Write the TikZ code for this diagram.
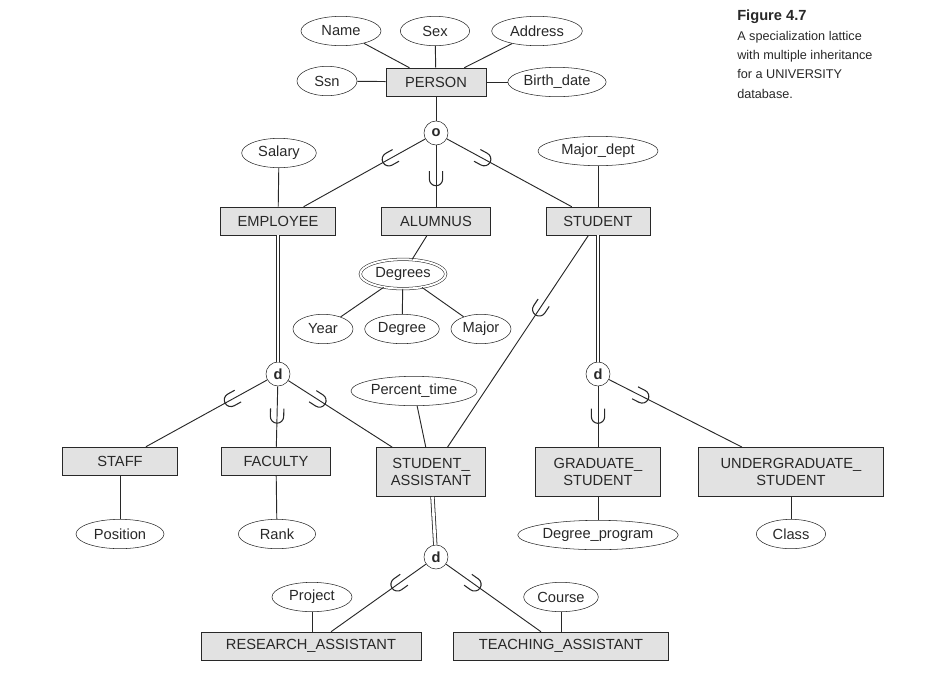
\documentclass[tikz,border=0pt]{standalone}
\usepackage{fontspec}
\setmainfont{Liberation Sans}
\usetikzlibrary{decorations.markings,shapes.geometric}
\definecolor{boxfill}{RGB}{226,226,226}
\definecolor{ink}{RGB}{40,40,40}
\begin{document}
\begin{tikzpicture}[x=0.75pt,y=-0.75pt,
  every node/.style={font=\fontsize{11}{13}\selectfont, text=ink},
  ent/.style={draw=ink, fill=boxfill, minimum height=21pt, inner sep=2pt, align=center},
  ent2/.style={ent, minimum height=37pt},
  attr/.style={draw=ink, ellipse, minimum height=22pt, inner sep=1pt},
  mattr/.style={attr, double, double distance=1.5pt},
  circ/.style={draw=ink, circle, minimum size=18pt, inner sep=0pt, font=\bfseries\fontsize{11}{13}\selectfont},
  ln/.style={draw=ink, line width=0.7pt},
  dbl/.style={draw=ink, double, double distance=2pt, line width=0.6pt},
  subsetcup/.style={postaction={decorate,decoration={markings,mark=at position #1 with {\draw[ink, line width=0.8pt] (-6pt,5pt) -- (0pt,5pt) arc[start angle=90,end angle=-90,radius=5pt] -- (-6pt,-5pt);}}}}
]
\useasboundingbox (0,0) rectangle (945,679);
% entities
\node[ent, minimum width=75pt] (person) at (436,82) {PERSON};
\node[ent, minimum width=86pt] (emp) at (278,221) {EMPLOYEE};
\node[ent, minimum width=82pt] (alum) at (436,221) {ALUMNUS};
\node[ent, minimum width=78pt] (stu) at (598,221) {STUDENT};
\node[ent, minimum width=86pt] (staff) at (120,461) {STAFF};
\node[ent, minimum width=82pt] (fac) at (276,461) {FACULTY};
\node[ent2, minimum width=82pt] (sa) at (431,472) {STUDENT\_\\ASSISTANT};
\node[ent2, minimum width=94pt] (gs) at (598,472) {GRADUATE\_\\STUDENT};
\node[ent2, minimum width=139pt] (ug) at (791,472) {UNDERGRADUATE\_\\STUDENT};
\node[ent, minimum width=165pt] (ra) at (311,646) {RESEARCH\_ASSISTANT};
\node[ent, minimum width=161pt] (ta) at (561,646) {TEACHING\_ASSISTANT};
% circles
\node[circ] (o) at (436,133) {o};
\node[circ] (d1) at (278,374) {d};
\node[circ] (d2) at (598,374) {d};
\node[circ] (d3) at (436,557) {d};
% attributes
\node[attr, minimum width=60pt] (name) at (341,31) {Name};
\node[attr, minimum width=52pt] (sex) at (435,31) {Sex};
\node[attr, minimum width=68pt] (addr) at (537,31) {Address};
\node[attr, minimum width=45pt] (ssn) at (327,81) {Ssn};
\node[attr, minimum width=70pt] (bd) at (557,82) {Birth\_date};
\node[attr, minimum width=56pt] (sal) at (279,153) {Salary};
\node[attr, minimum width=90pt] (md) at (598,151) {Major\_dept};
\node[mattr, minimum width=64pt] (deg) at (403,274) {Degrees};
\node[attr, minimum width=45pt] (year) at (323,329) {Year};
\node[attr, minimum width=56pt] (degree) at (402,329) {Degree};
\node[attr, minimum width=45pt] (major) at (481,329) {Major};
\node[attr, minimum width=82pt] (pt) at (414,391) {Percent\_time};
\node[attr, minimum width=66pt] (pos) at (120,534) {Position};
\node[attr, minimum width=58pt] (rank) at (277,534) {Rank};
\node[attr, minimum width=120pt] (dp) at (598,535) {Degree\_program};
\node[attr, minimum width=52pt] (cls) at (791,534) {Class};
\node[attr, minimum width=60pt] (proj) at (312,597) {Project};
\node[attr, minimum width=56pt] (course) at (561,597) {Course};
% attribute links
\foreach \a in {name,sex,addr,ssn,bd} \draw[ln] (\a) -- (person);
\draw[ln] (sal) -- (emp);
\draw[ln] (md) -- (stu);
\draw[ln] (alum) -- (deg);
\foreach \a in {year,degree,major} \draw[ln] (deg) -- (\a);
\draw[ln] (pt) -- (sa);
\draw[ln] (pos) -- (staff);
\draw[ln] (rank) -- (fac);
\draw[ln] (dp) -- (gs);
\draw[ln] (cls) -- (ug);
\draw[ln] (proj) -- (proj |- ra.north);
\draw[ln] (course) -- (course |- ta.north);
% specialization
\draw[ln] (person) -- (o);
\draw[ln, subsetcup=0.3] (o) -- (emp);
\draw[ln, subsetcup=0.55] (o) -- (alum);
\draw[ln, subsetcup=0.3] (o) -- (stu);
\draw[dbl] (emp) -- (d1);
\draw[dbl] (stu) -- (d2);
\draw[ln, subsetcup=0.3] (d1) -- (staff);
\draw[ln, subsetcup=0.5] (d1) -- (fac);
\draw[ln, subsetcup=0.3] (d1) -- (sa);
\draw[ln, subsetcup=0.35] (stu) -- (sa);
\draw[ln, subsetcup=0.5] (d2) -- (gs);
\draw[ln, subsetcup=0.25] (d2) -- (ug);
\draw[dbl] (sa) -- (d3);
\draw[ln, subsetcup=0.3] (d3) -- (ra);
\draw[ln, subsetcup=0.3] (d3) -- (ta);
% caption
\node[anchor=north west, align=left, inner sep=0pt, font=\fontsize{9.5}{14.5}\selectfont] (cap) at (737,10)
  {{\bfseries\fontsize{11}{14.5}\selectfont Figure 4.7}\\A specialization lattice\\with multiple inheritance\\for a UNIVERSITY\\database.};
\end{tikzpicture}
\end{document}
